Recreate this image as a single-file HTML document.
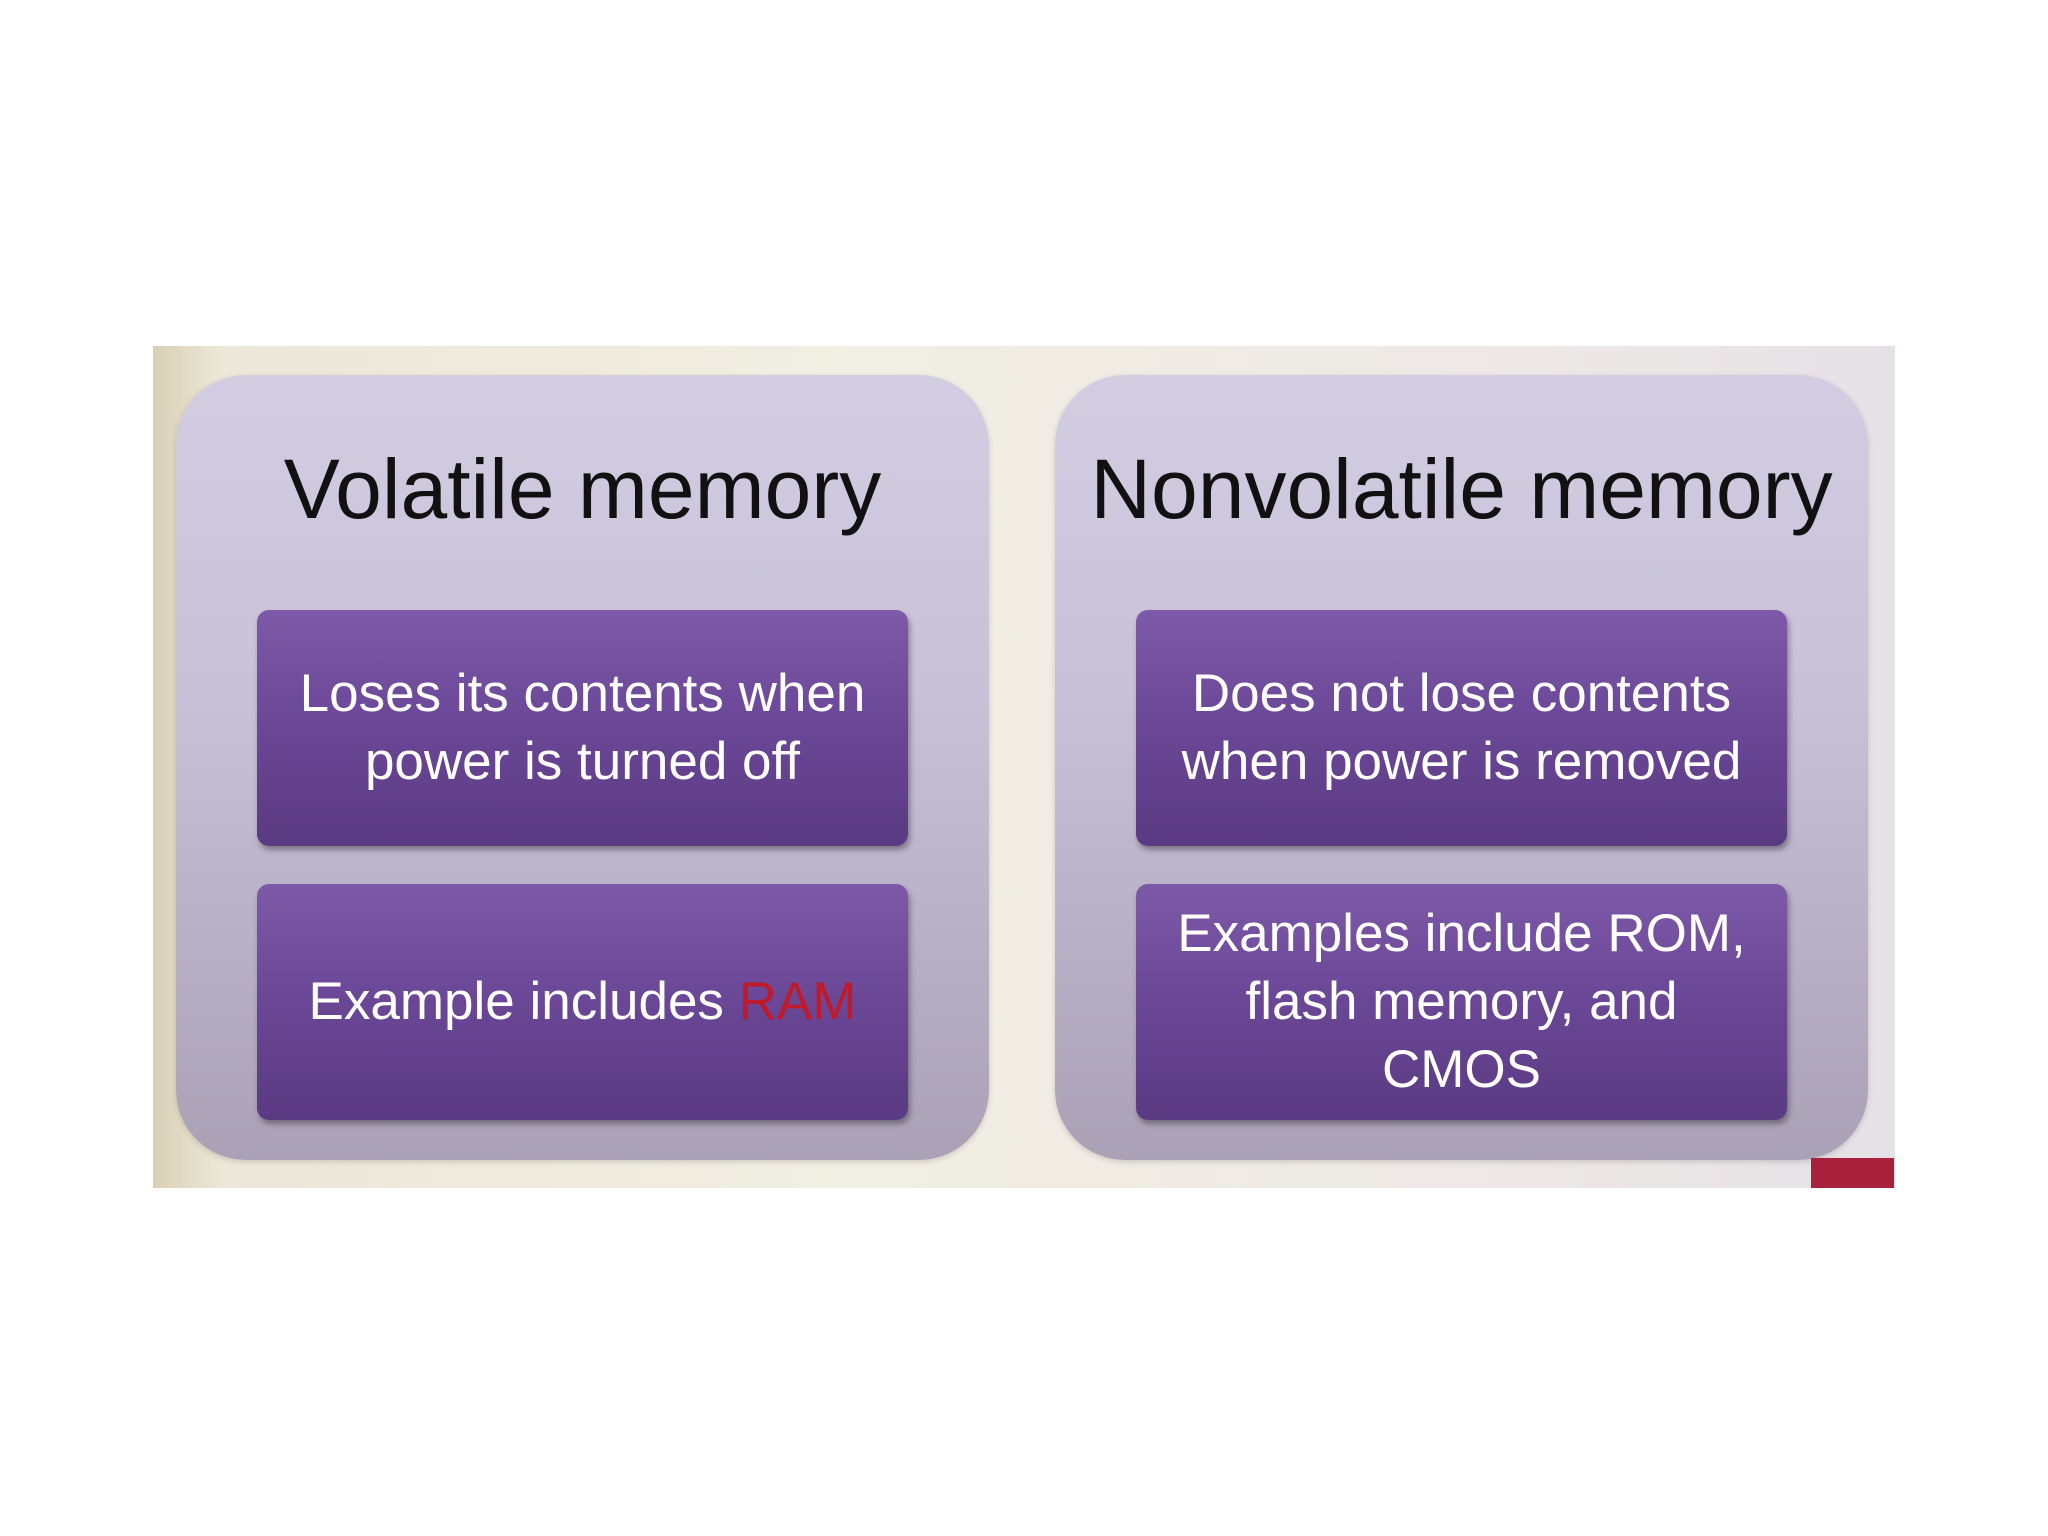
<!DOCTYPE html>
<html><head><meta charset="utf-8"><style>
html,body{margin:0;padding:0;background:#fff;}
body{width:2048px;height:1536px;position:relative;overflow:hidden;font-family:"Liberation Sans",sans-serif;}
.bg{position:absolute;left:153px;top:346px;width:1742px;height:842px;
background:linear-gradient(90deg,#d9d0b5 0%,#ece7d8 4%,#f1eee3 40%,#ede8e6 80%,#e6e1e6 100%);}
.big{position:absolute;top:375px;width:813px;height:785px;border-radius:70px;
background:linear-gradient(180deg,#d3cde2 0%,#c8c1d8 40%,#aaa1b6 100%);
box-shadow:0 2px 6px rgba(0,0,0,0.15);}
.title{position:absolute;left:-40px;right:-40px;top:66px;text-align:center;font-size:84px;color:#111;}
.inner{position:absolute;left:81px;width:651px;height:236px;border-radius:12px;
background:linear-gradient(180deg,#7d5aa8 0%,#6c4898 45%,#5a3a82 100%);
box-shadow:2px 4px 6px rgba(0,0,0,0.35);color:#fff;font-size:53px;line-height:68px;
display:flex;align-items:center;justify-content:center;text-align:center;}
.red{position:absolute;left:1811px;top:1158px;width:83px;height:30px;background:#a7213c;}
</style></head><body>
<div class="bg"></div>
<div class="big" style="left:176px">
  <div class="title">Volatile memory</div>
  <div class="inner" style="top:235px">Loses its contents when<br>power is turned off</div>
  <div class="inner" style="top:509px">Example includes&nbsp;<span style="color:#c01a2a">RAM</span></div>
</div>
<div class="big" style="left:1055px">
  <div class="title">Nonvolatile memory</div>
  <div class="inner" style="top:235px">Does not lose contents<br>when power is removed</div>
  <div class="inner" style="top:509px">Examples include ROM,<br>flash memory, and<br>CMOS</div>
</div>
<div class="red"></div>
</body></html>
